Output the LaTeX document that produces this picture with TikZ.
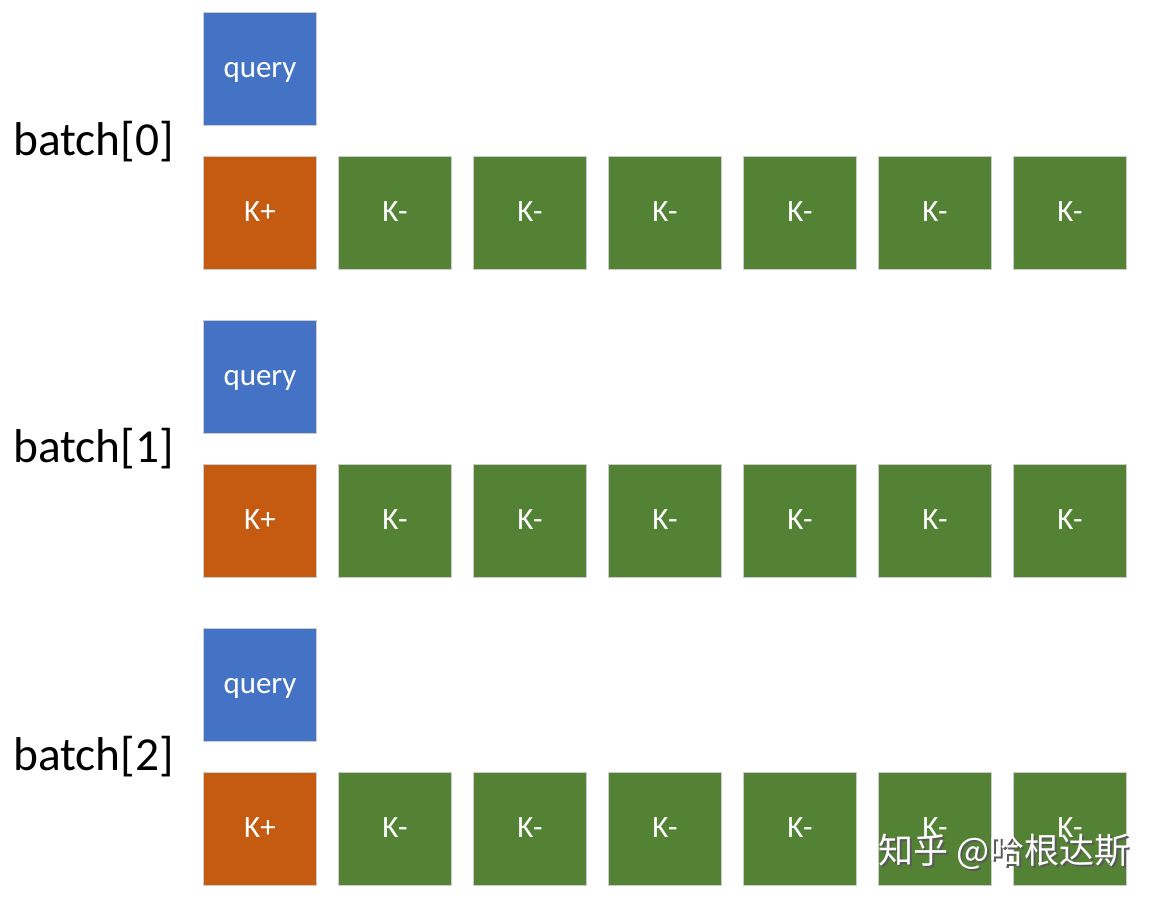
\documentclass[tikz,border=0pt]{standalone}
\usepackage{fontspec}
\setmainfont{Carlito}
\newfontfamily\cjk{Noto Sans CJK SC}
\usetikzlibrary{positioning}
\definecolor{qblue}{HTML}{4472C4}
\definecolor{kpos}{HTML}{C55A11}
\definecolor{kneg}{HTML}{548235}
\tikzset{node distance=10.5pt,
  cell/.style={draw=black!20, line width=0.5pt, minimum size=56.5pt, inner sep=0pt,
    text=white, text height=11pt, text depth=2.5pt, font=\fontsize{15.5}{18}\selectfont},
  querybox/.style={cell, fill=qblue},
  posbox/.style={cell, fill=kpos},
  negbox/.style={cell, fill=kneg},
  batchlabel/.style={anchor=west, inner sep=0pt, font=\fontsize{23.7}{26}\selectfont}}

\begin{document}
\begin{tikzpicture}[x=0.5pt, y=-0.5pt]
  \useasboundingbox (0,0) rectangle (1161,903);

  \foreach \r/\y in {0/69.5, 1/377, 2/684.5}{
    \node[querybox] (Q\r) at (260,\y) {query};
    \node[posbox] (P\r)[below=15pt of Q\r] {K+};
    \node[batchlabel] (B\r) at (13,\y+72) {batch[\r]};
    \node[negbox] (N\r1)[right=10.5pt of P\r] {K-};
    \foreach \c [count=\p from 1] in {2,...,6}
      \node[negbox] (N\r\c)[right=10.5pt of N\r\p] {K-};
  }

  % watermark
  \node[text=black!65, font=\cjk\fontsize{17.5}{20}\selectfont] (W1) at (1006,854) {知乎 @哈根达斯};
  \node[text=white, font=\cjk\fontsize{17.5}{20}\selectfont] (W) at (1004,852) {知乎 @哈根达斯};
\end{tikzpicture}
\end{document}
